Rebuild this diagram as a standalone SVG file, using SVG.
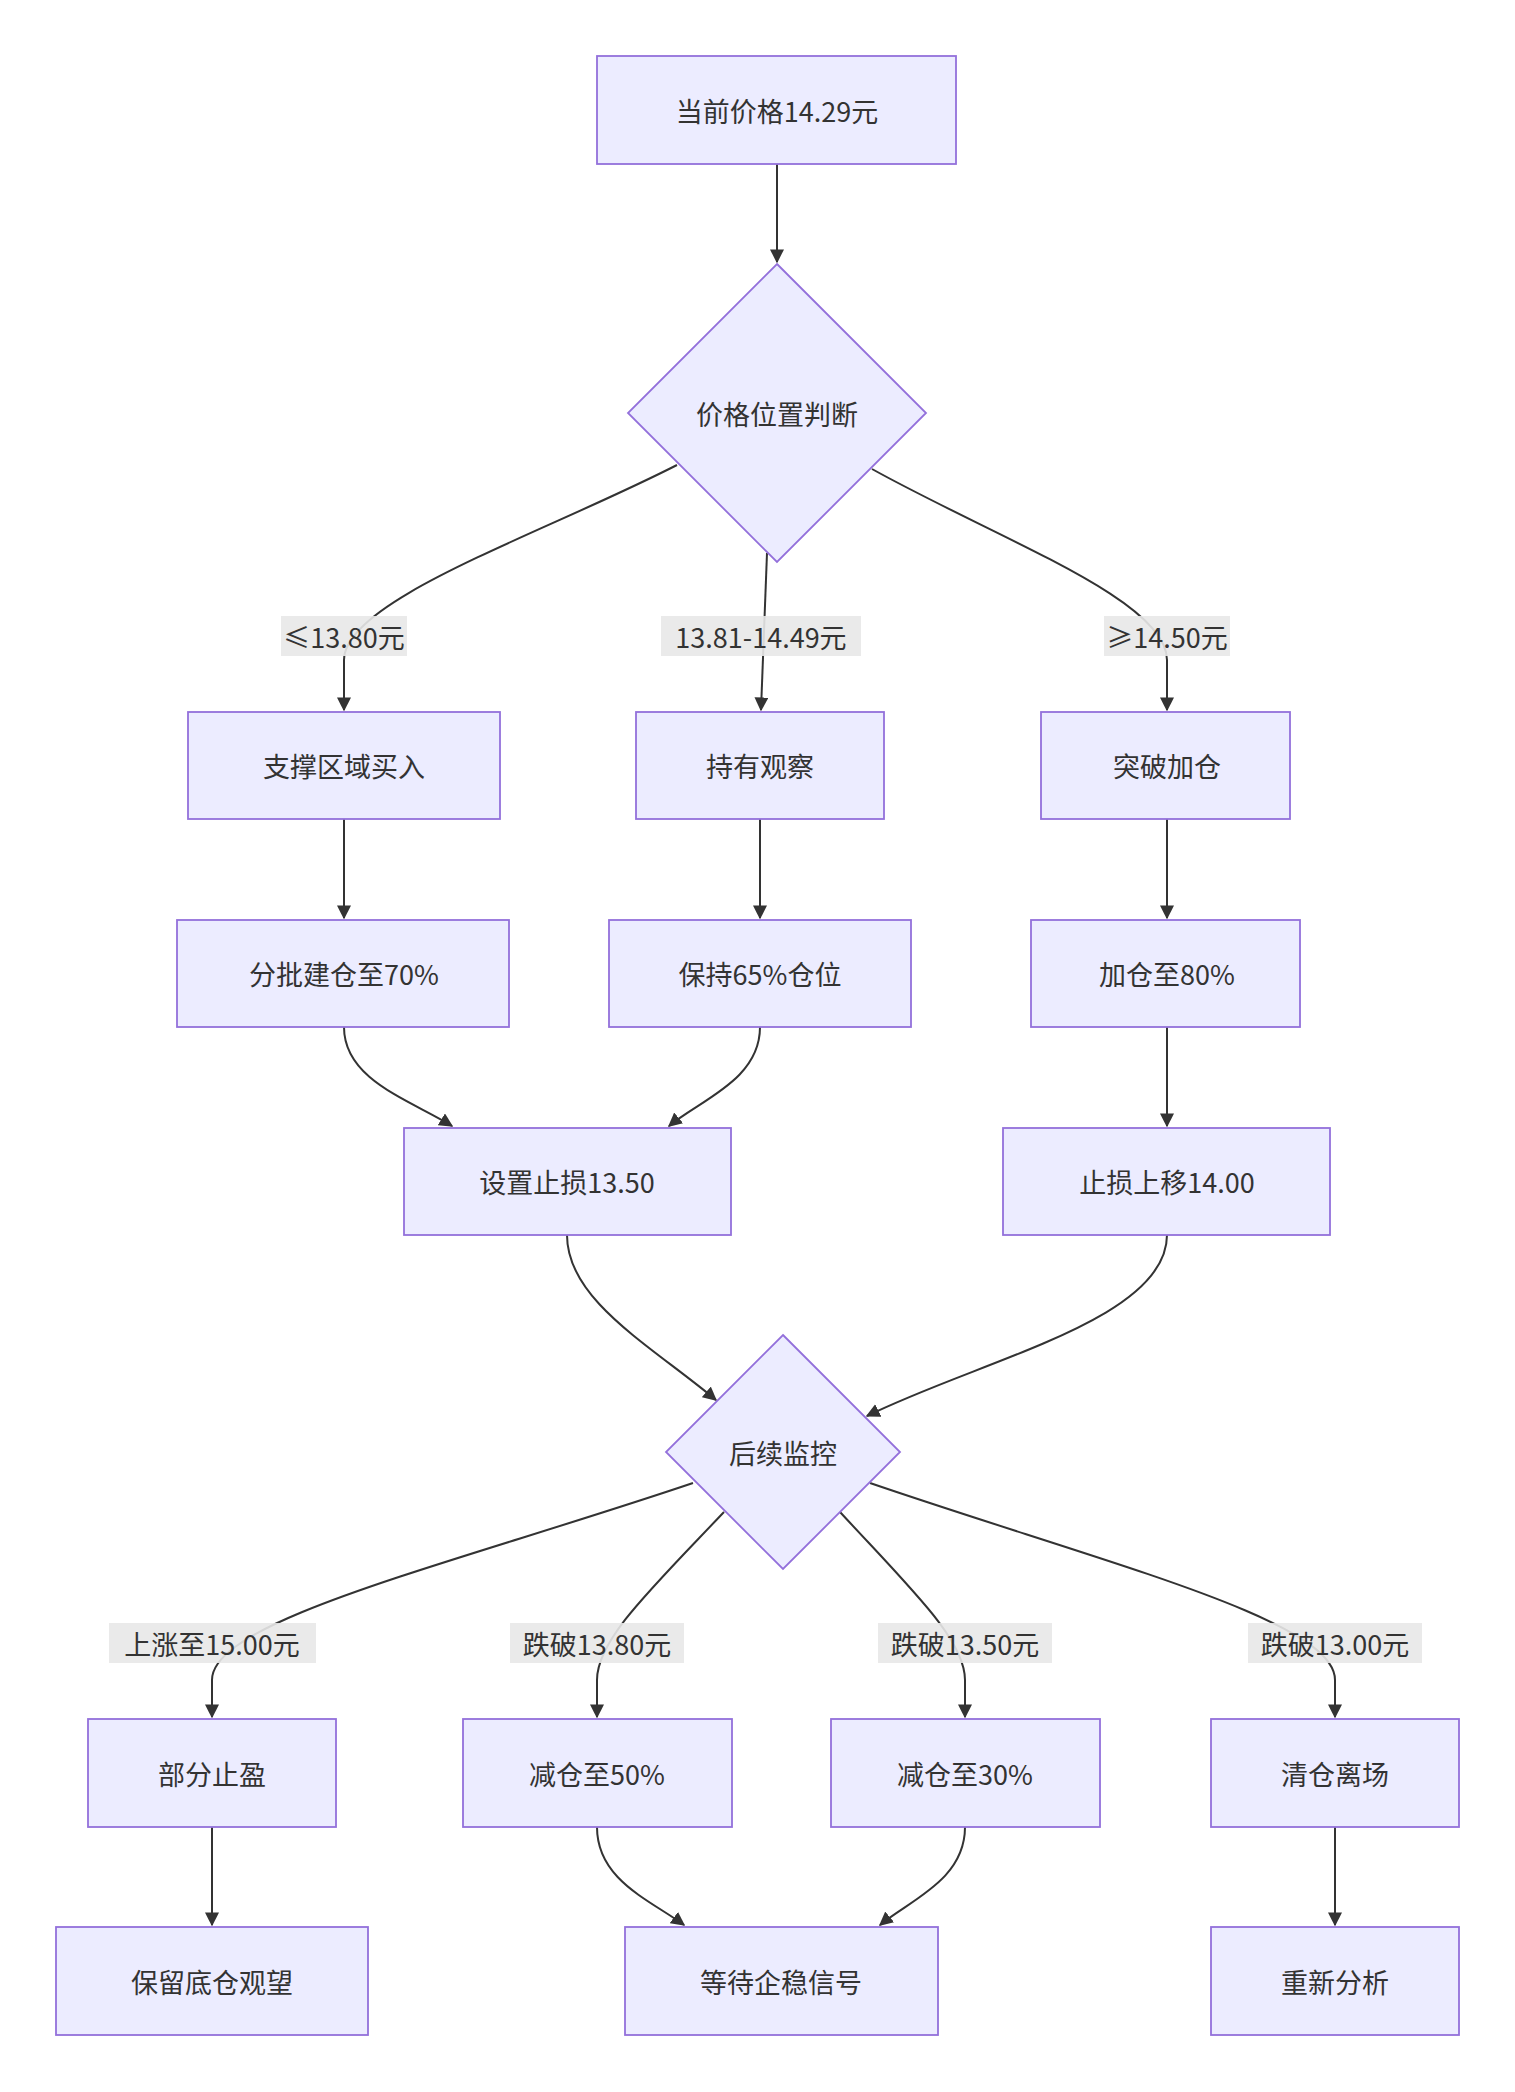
<svg xmlns="http://www.w3.org/2000/svg" width="1515" height="2092" viewBox="0 0 1515 2092">
<style>
.n{fill:#ECECFF;stroke:#9370DB;stroke-width:1.8}
.t{font-family:"Noto Sans CJK SC","Liberation Sans",sans-serif;font-size:27px;fill:#333;text-anchor:middle;dominant-baseline:central}
.e{fill:none;stroke:#333;stroke-width:2;marker-end:url(#a)}
.lb{fill:#e8e8e8;opacity:0.9}
</style>
<defs><marker id="a" viewBox="0 0 10 10" refX="9" refY="5" markerWidth="7" markerHeight="7" orient="auto"><path d="M0,0L10,5L0,10z" fill="#333"/></marker></defs>
<rect width="1515" height="2092" fill="#fff"/>
<g id="edges">
<path class="e" d="M777,164L777,262"/>
<path class="e" d="M677,465C540,535 344,600 344,660L344,710"/>
<path class="e" d="M767,553L761,710"/>
<path class="e" d="M872,469C1000,540 1167,600 1167,660L1167,710"/>
<path class="e" d="M344,819L344,918"/>
<path class="e" d="M760,819L760,918"/>
<path class="e" d="M1167,819L1167,918"/>
<path class="e" d="M1167,1027L1167,1126"/>
<path class="e" d="M344,1027C344,1080 410,1100 452,1126"/>
<path class="e" d="M760,1027C760,1080 700,1100 669,1126"/>
<path class="e" d="M567,1235C567,1300 650,1345 716,1400"/>
<path class="e" d="M1167,1235C1167,1320 980,1360 867,1416"/>
<path class="e" d="M693,1483C450,1565 212,1620 212,1680L212,1717"/>
<path class="e" d="M724,1512C650,1590 597,1640 597,1680L597,1717"/>
<path class="e" d="M840,1512C912,1590 965,1640 965,1680L965,1717"/>
<path class="e" d="M870,1483C1110,1565 1335,1620 1335,1680L1335,1717"/>
<path class="e" d="M212,1827L212,1925"/>
<path class="e" d="M1335,1827L1335,1925"/>
<path class="e" d="M597,1827C597,1880 650,1900 684,1925"/>
<path class="e" d="M965,1827C965,1880 910,1900 880,1925"/>
</g>
<g id="labels">
<rect class="lb" x="281" y="616" width="126" height="40"/><text class="t" x="344" y="636">≤13.80元</text>
<rect class="lb" x="661" y="616" width="200" height="40"/><text class="t" x="761" y="636">13.81-14.49元</text>
<rect class="lb" x="1104" y="616" width="126" height="40"/><text class="t" x="1167" y="636">≥14.50元</text>
<rect class="lb" x="109" y="1623" width="207" height="40"/><text class="t" x="212" y="1643">上涨至15.00元</text>
<rect class="lb" x="510" y="1623" width="174" height="40"/><text class="t" x="597" y="1643">跌破13.80元</text>
<rect class="lb" x="878" y="1623" width="174" height="40"/><text class="t" x="965" y="1643">跌破13.50元</text>
<rect class="lb" x="1248" y="1623" width="174" height="40"/><text class="t" x="1335" y="1643">跌破13.00元</text>
</g>
<g id="n1"><rect class="n" x="597" y="56" width="359" height="108"/><text class="t" x="777" y="110">当前价格14.29元</text></g>
<g id="n2"><polygon class="n" points="777,264 926,413 777,562 628,413"/><text class="t" x="777" y="413">价格位置判断</text></g>
<g id="n3"><rect class="n" x="188" y="712" width="312" height="107"/><text class="t" x="344" y="765">支撑区域买入</text></g>
<g id="n4"><rect class="n" x="636" y="712" width="248" height="107"/><text class="t" x="760" y="765">持有观察</text></g>
<g id="n5"><rect class="n" x="1041" y="712" width="249" height="107"/><text class="t" x="1167" y="765">突破加仓</text></g>
<g id="n6"><rect class="n" x="177" y="920" width="332" height="107"/><text class="t" x="344" y="973">分批建仓至70%</text></g>
<g id="n7"><rect class="n" x="609" y="920" width="302" height="107"/><text class="t" x="760" y="973">保持65%仓位</text></g>
<g id="n8"><rect class="n" x="1031" y="920" width="269" height="107"/><text class="t" x="1167" y="973">加仓至80%</text></g>
<g id="n9"><rect class="n" x="404" y="1128" width="327" height="107"/><text class="t" x="567" y="1181">设置止损13.50</text></g>
<g id="n10"><rect class="n" x="1003" y="1128" width="327" height="107"/><text class="t" x="1167" y="1181">止损上移14.00</text></g>
<g id="n11"><polygon class="n" points="783,1335 900,1452 783,1569 666,1452"/><text class="t" x="783" y="1452">后续监控</text></g>
<g id="n12"><rect class="n" x="88" y="1719" width="248" height="108"/><text class="t" x="212" y="1773">部分止盈</text></g>
<g id="n13"><rect class="n" x="463" y="1719" width="269" height="108"/><text class="t" x="597" y="1773">减仓至50%</text></g>
<g id="n14"><rect class="n" x="831" y="1719" width="269" height="108"/><text class="t" x="965" y="1773">减仓至30%</text></g>
<g id="n15"><rect class="n" x="1211" y="1719" width="248" height="108"/><text class="t" x="1335" y="1773">清仓离场</text></g>
<g id="n16"><rect class="n" x="56" y="1927" width="312" height="108"/><text class="t" x="212" y="1981">保留底仓观望</text></g>
<g id="n17"><rect class="n" x="625" y="1927" width="313" height="108"/><text class="t" x="781" y="1981">等待企稳信号</text></g>
<g id="n18"><rect class="n" x="1211" y="1927" width="248" height="108"/><text class="t" x="1335" y="1981">重新分析</text></g>
</svg>
